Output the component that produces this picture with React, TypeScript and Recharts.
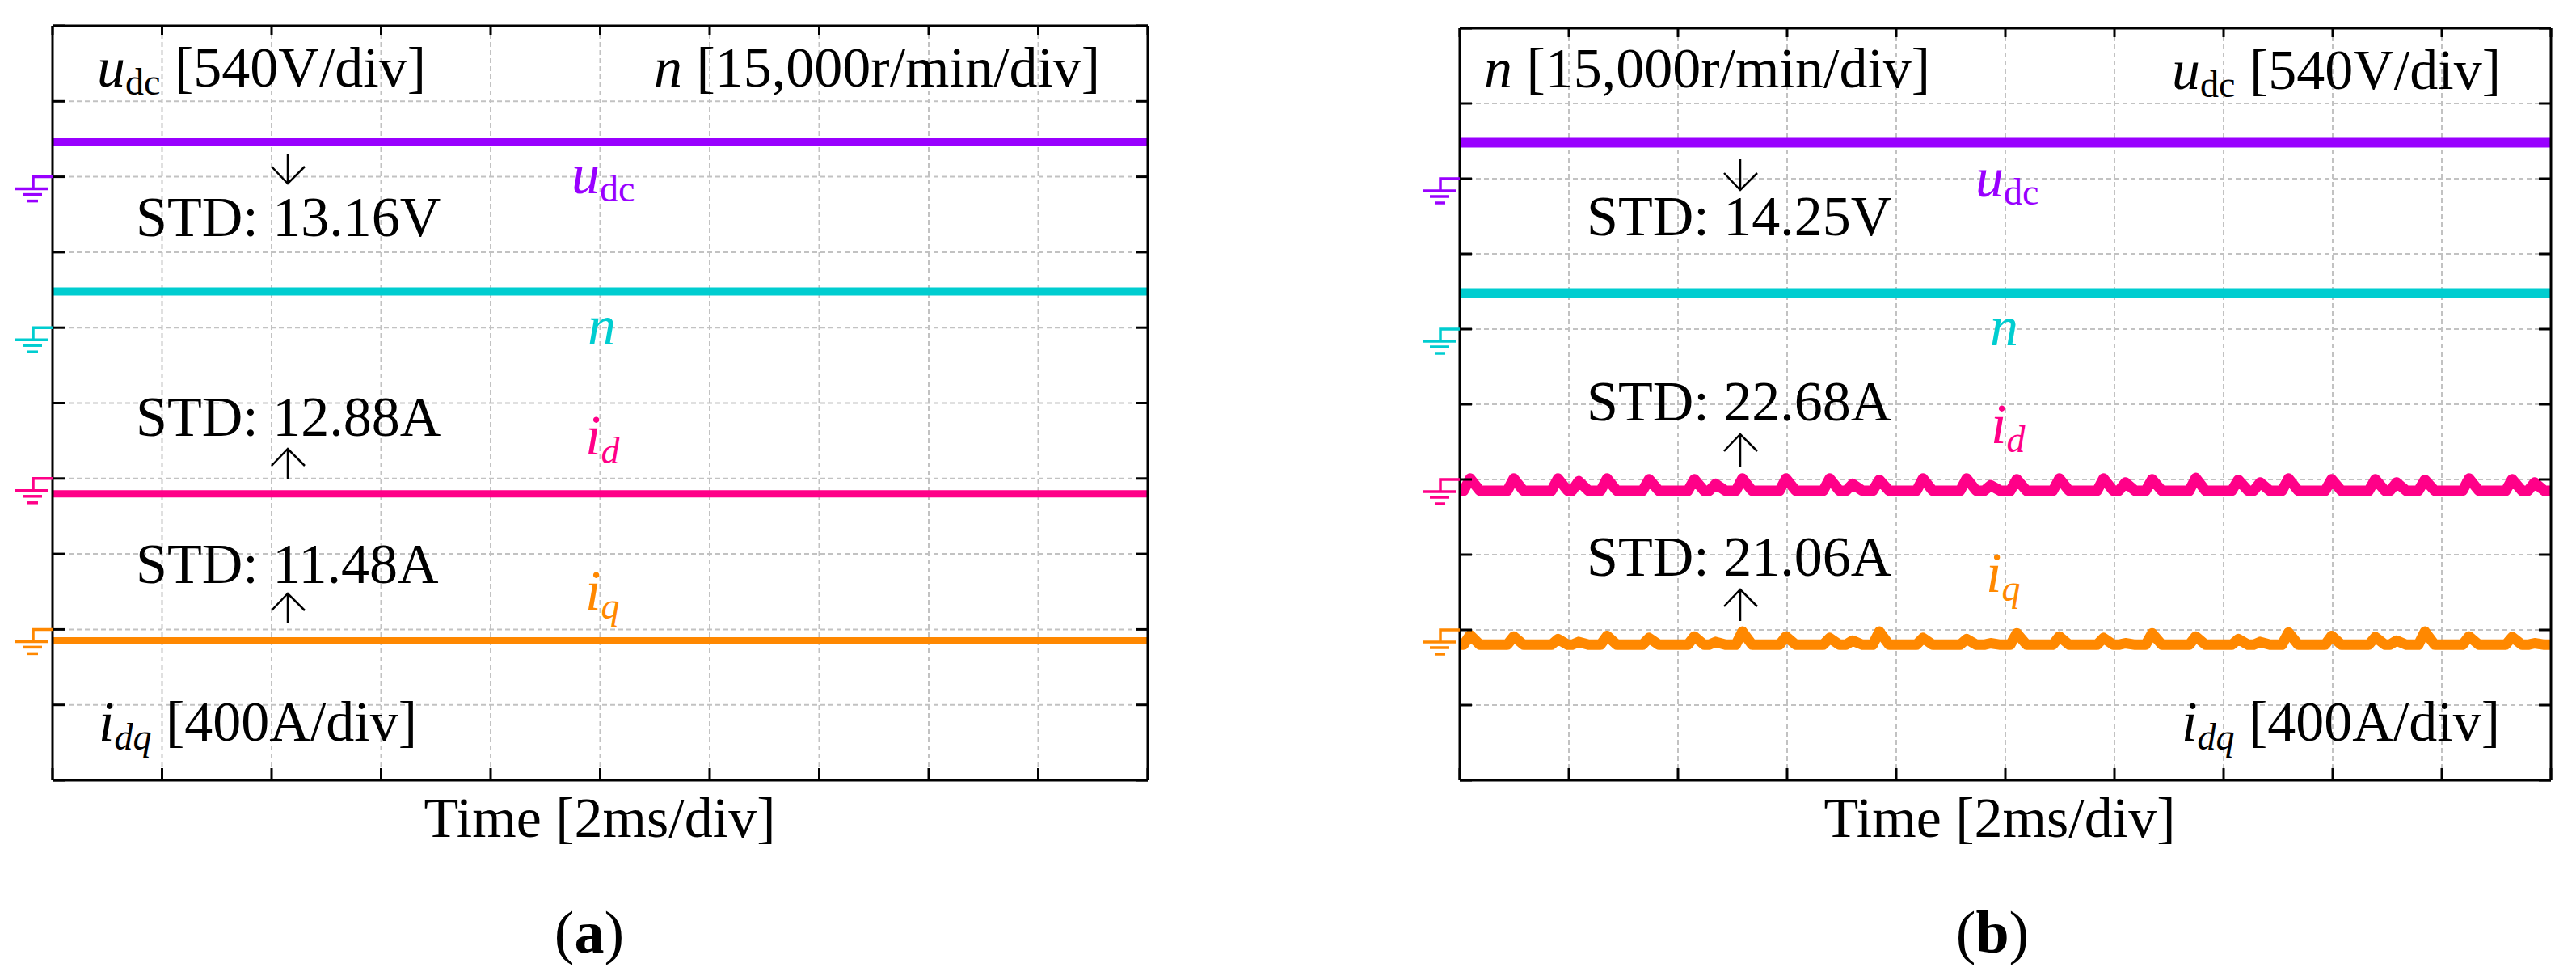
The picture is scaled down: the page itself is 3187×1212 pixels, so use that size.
import React from "react";
import { LineChart, Line, XAxis, YAxis, CartesianGrid } from "recharts";

const W = 3187;
const H = 1212;
const FONT = "'Liberation Serif', 'Times New Roman', serif";

// ---- axes (oscilloscope divisions) ----
const TIME_TICKS = [0, 2, 4, 6, 8, 10, 12, 14, 16, 18, 20]; // ms, 2 ms/div
const DIV_TICKS = [0, 1, 2, 3, 4, 5, 6, 7, 8, 9, 10];
const GROUND_TICKS = [8, 6, 4, 2];

// channel scale per division and ground level (division index from bottom)
const SCALE_UDC = 540; // V/div
const SCALE_N = 15000; // r/min/div
const SCALE_I = 400; // A/div
const GND_UDC = 8;
const GND_N = 6;
const GND_ID = 4;
const GND_IQ = 2;

const C_UDC = "#9900ff";
const C_N = "#00cdd0";
const C_ID = "#ff0088";
const C_IQ = "#ff8800";

// ---- panel (a) readings ----
const timeA = [0, 2, 4, 6, 8, 10, 12, 14, 16, 18, 20];
const udcA = [246, 246, 247, 246, 246, 246, 247, 246, 246, 246, 246]; // V
const nA = [7170, 7170, 7170, 7170, 7170, 7170, 7170, 7170, 7170, 7170, 7170]; // r/min
const idA = [-81, -81, -81, -81, -81, -81, -81, -81, -81, -81, -81]; // A
const iqA = [-60, -60, -60, -60, -60, -60, -60, -60, -60, -60, -60]; // A

// ---- panel (b) readings ----
const timeB = [0, 2, 4, 6, 8, 10, 12, 14, 16, 18, 20];
const udcB = [259, 259, 259, 259, 259, 259, 259, 259, 259, 259, 259];
const nB = [7190, 7190, 7190, 7190, 7190, 7190, 7190, 7190, 7190, 7190, 7190];
const peakTimeB = [
  0.19, 0.99, 1.8, 2.18, 2.7, 3.47, 4.3, 4.69, 5.18, 5.98, 6.78, 7.2, 7.69, 8.49, 9.29, 9.73,
  10.21, 10.99, 11.8, 12.2, 12.69, 13.49, 14.27, 14.67, 15.19, 15.98, 16.78, 17.17, 17.69, 18.5, 19.29, 19.7,
];
const idPeakB = [
  5, 5, 5, -9, 5, 1, 1, -24, 5, 5, 5, -24, -2, 5, 5, -31,
  1, 5, 5, -16, 1, 8, -2, -16, 5, 1, 1, -16, -2, 5, 1, -16,
];
const iqPeakB = [
  -28, -35, -49, -64, -32, -43, -35, -64, -9, -35, -43, -57, -9, -43, -49, -71,
  -18, -35, -43, -71, -18, -35, -49, -64, -14, -32, -38, -57, -9, -35, -38, -71,
];
const idBaseB = -60;
const iqBaseB = -79;
const riseB = 0.12; // ms, leading edge of each ripple peak
const fallB = 0.18; // ms, trailing edge

// ---- table builders ----
const toDiv = (v: number, gnd: number, scale: number) => gnd + v / scale;
const flat = (ts: number[], vs: number[], gnd: number, scale: number) =>
  ts.map((t, i) => ({ t, v: toDiv(vs[i], gnd, scale) }));
const rippled = (peaks: number[], base: number, gnd: number, scale: number) => {
  const pts = [{ t: 0, v: toDiv(base, gnd, scale) }];
  peakTimeB.forEach((t, i) => {
    pts.push({ t: t - riseB, v: toDiv(base, gnd, scale) });
    pts.push({ t, v: toDiv(peaks[i], gnd, scale) });
    pts.push({ t: t + fallB, v: toDiv(base, gnd, scale) });
  });
  pts.push({ t: 20, v: toDiv(base, gnd, scale) });
  return pts;
};

const tracesA = [
  { key: "udc", color: C_UDC, w: 10, data: flat(timeA, udcA, GND_UDC, SCALE_UDC) },
  { key: "n", color: C_N, w: 10, data: flat(timeA, nA, GND_N, SCALE_N) },
  { key: "id", color: C_ID, w: 9, data: flat(timeA, idA, GND_ID, SCALE_I) },
  { key: "iq", color: C_IQ, w: 9, data: flat(timeA, iqA, GND_IQ, SCALE_I) },
];
const tracesB = [
  { key: "udc", color: C_UDC, w: 12, data: flat(timeB, udcB, GND_UDC, SCALE_UDC) },
  { key: "n", color: C_N, w: 12, data: flat(timeB, nB, GND_N, SCALE_N) },
  { key: "id", color: C_ID, w: 13, data: rippled(idPeakB, idBaseB, GND_ID, SCALE_I) },
  { key: "iq", color: C_IQ, w: 13, data: rippled(iqPeakB, iqBaseB, GND_IQ, SCALE_I) },
];

const GROUND_COLOR: Record<number, string> = { 8: C_UDC, 6: C_N, 4: C_ID, 2: C_IQ };

const GroundTick = (props: any) => {
  const { x, y, payload } = props;
  const c = GROUND_COLOR[payload.value];
  return (
    <g stroke={c} strokeWidth={3.5} fill="none">
      <polyline points={`${x},${y} ${x - 24},${y} ${x - 24},${y + 15}`} />
      <line x1={x - 46} y1={y + 15} x2={x - 5} y2={y + 15} />
      <line x1={x - 37} y1={y + 22} x2={x - 13} y2={y + 22} />
      <line x1={x - 31} y1={y + 30} x2={x - 18} y2={y + 30} />
    </g>
  );
};

const EmptyTick = () => <g />;

const axisLine = { stroke: "#000", strokeWidth: 3 };
const tickLine = { stroke: "#000", strokeWidth: 3 };

function Scope({ box, traces }: { box: { l: number; r: number; t: number; b: number }; traces: any[] }) {
  // axes take 1px each (two on the left); margins compensate so the plot box lands on the frame
  const margin = { top: box.t - 1, left: box.l - 2, right: W - box.r - 1, bottom: H - box.b - 1 };
  return (
    <div style={{ position: "absolute", left: 0, top: 0, width: W, height: H }}>
      <LineChart width={W} height={H} margin={margin}>
        <CartesianGrid
          xAxisId="b"
          yAxisId="l"
          stroke="#c2c2c2"
          strokeWidth={2}
          strokeDasharray="6 4"
        />
        <XAxis
          xAxisId="b"
          dataKey="t"
          type="number"
          domain={[0, 20]}
          ticks={TIME_TICKS}
          interval={0}
          orientation="bottom"
          height={1}
          mirror
          tick={<EmptyTick />}
          tickSize={15}
          axisLine={axisLine}
          tickLine={tickLine}
          allowDataOverflow
        />
        <XAxis
          xAxisId="t"
          dataKey="t"
          type="number"
          domain={[0, 20]}
          ticks={TIME_TICKS}
          interval={0}
          orientation="top"
          height={1}
          mirror
          tick={<EmptyTick />}
          tickSize={11}
          axisLine={axisLine}
          tickLine={tickLine}
          allowDataOverflow
        />
        <YAxis
          yAxisId="l"
          type="number"
          domain={[0, 10]}
          ticks={DIV_TICKS}
          interval={0}
          orientation="left"
          width={1}
          mirror
          tick={<EmptyTick />}
          tickSize={15}
          axisLine={axisLine}
          tickLine={tickLine}
          allowDataOverflow
        />
        <YAxis
          yAxisId="r"
          type="number"
          domain={[0, 10]}
          ticks={DIV_TICKS}
          interval={0}
          orientation="right"
          width={1}
          mirror
          tick={<EmptyTick />}
          tickSize={15}
          axisLine={axisLine}
          tickLine={tickLine}
          allowDataOverflow
        />
        <YAxis
          yAxisId="g"
          type="number"
          domain={[0, 10]}
          ticks={GROUND_TICKS}
          interval={0}
          orientation="left"
          width={1}
          tick={<GroundTick />}
          tickSize={0}
          tickMargin={0}
          axisLine={false}
          tickLine={false}
          allowDataOverflow
        />
        {traces.map((tr) => (
          <Line
            key={tr.key}
            xAxisId="b"
            yAxisId="l"
            data={tr.data}
            dataKey="v"
            type="linear"
            stroke={tr.color}
            strokeWidth={tr.w}
            strokeLinejoin="round"
            strokeLinecap="butt"
            dot={false}
            activeDot={false}
            isAnimationActive={false}
          />
        ))}
      </LineChart>
    </div>
  );
}

const FS = 70;
const SUB = 46;

function Arrow({ x, tip, tail }: { x: number; tip: number; tail: number }) {
  const dir = tail > tip ? 1 : -1; // 1: points up
  const hy = tip + dir * 21;
  return (
    <g stroke="#000" strokeWidth={2.5} fill="none">
      <line x1={x} y1={tail} x2={x} y2={tip} />
      <polyline points={`${x - 20},${hy} ${x},${tip} ${x + 21},${hy}`} />
    </g>
  );
}

function Udc({ x, y, color = "#000", rest = "" }: any) {
  return (
    <text x={x} y={y} fill={color} fontSize={FS} fontFamily={FONT} style={{ whiteSpace: "pre" }}>
      <tspan fontStyle="italic">u</tspan>
      <tspan fontSize={SUB} dy={10}>dc</tspan>
      {rest ? <tspan dy={-10}>{rest}</tspan> : null}
    </text>
  );
}

function ISub({ x, y, color = "#000", sub, rest = "" }: any) {
  return (
    <text x={x} y={y} fill={color} fontSize={FS} fontFamily={FONT} style={{ whiteSpace: "pre" }}>
      <tspan fontStyle="italic">i</tspan>
      <tspan fontSize={SUB} dy={11} fontStyle="italic">{sub}</tspan>
      {rest ? <tspan dy={-11}>{rest}</tspan> : null}
    </text>
  );
}

function NLabel({ x, y, color = "#000", rest = "" }: any) {
  return (
    <text x={x} y={y} fill={color} fontSize={FS} fontFamily={FONT} style={{ whiteSpace: "pre" }}>
      <tspan fontStyle="italic">n</tspan>
      {rest ? <tspan>{rest}</tspan> : null}
    </text>
  );
}

function Plain({ x, y, children, anchor = "start" }: any) {
  return (
    <text x={x} y={y} fill="#000" fontSize={FS} fontFamily={FONT} textAnchor={anchor} style={{ whiteSpace: "pre" }}>
      {children}
    </text>
  );
}

function Overlay() {
  return (
    <svg
      width={W}
      height={H}
      style={{ position: "absolute", left: 0, top: 0, pointerEvents: "none" }}
    >
      {/* panel (a) */}
      <Udc x={120} y={107} rest=" [540V/div]" />
      <NLabel x={809} y={107} rest=" [15,000r/min/div]" />
      <Udc x={707} y={239} color={C_UDC} />
      <Arrow x={356} tip={227} tail={190} />
      <Plain x={168} y={292}>STD: 13.16V</Plain>
      <NLabel x={727} y={426} color={C_N} />
      <Plain x={168} y={539}>STD: 12.88A</Plain>
      <Arrow x={356} tip={555} tail={592} />
      <ISub x={724} y={562} color={C_ID} sub="d" />
      <Plain x={168} y={721}>STD: 11.48A</Plain>
      <Arrow x={356} tip={734} tail={771} />
      <ISub x={724} y={754} color={C_IQ} sub="q" />
      <ISub x={122} y={916} sub="dq" rest=" [400A/div]" />
      <Plain x={742} y={1035} anchor="middle">Time [2ms/div]</Plain>
      <text x={729} y={1178} fontSize={74} fontFamily={FONT} textAnchor="middle" fill="#000">
        (<tspan fontWeight="bold">a</tspan>)
      </text>

      {/* panel (b) */}
      <NLabel x={1836} y={108} rest=" [15,000r/min/div]" />
      <Udc x={2687} y={110} rest=" [540V/div]" />
      <Udc x={2444} y={243} color={C_UDC} />
      <Arrow x={2153} tip={235} tail={197} />
      <Plain x={1963} y={291}>STD: 14.25V</Plain>
      <NLabel x={2462} y={427} color={C_N} />
      <Plain x={1963} y={520}>STD: 22.68A</Plain>
      <Arrow x={2153} tip={537} tail={577} />
      <ISub x={2463} y={548} color={C_ID} sub="d" />
      <Plain x={1963} y={712}>STD: 21.06A</Plain>
      <Arrow x={2153} tip={729} tail={768} />
      <ISub x={2457} y={732} color={C_IQ} sub="q" />
      <ISub x={2699} y={916} sub="dq" rest=" [400A/div]" />
      <Plain x={2474} y={1035} anchor="middle">Time [2ms/div]</Plain>
      <text x={2465} y={1178} fontSize={74} fontFamily={FONT} textAnchor="middle" fill="#000">
        (<tspan fontWeight="bold">b</tspan>)
      </text>
    </svg>
  );
}

export default function App() {
  return (
    <div style={{ position: "absolute", left: 0, top: 0, width: W, height: H, background: "#fff" }}>
      <Scope box={{ l: 66, r: 1419, t: 33, b: 964 }} traces={tracesA} />
      <Scope box={{ l: 1807, r: 3155, t: 36, b: 964 }} traces={tracesB} />
      <Overlay />
    </div>
  );
}
